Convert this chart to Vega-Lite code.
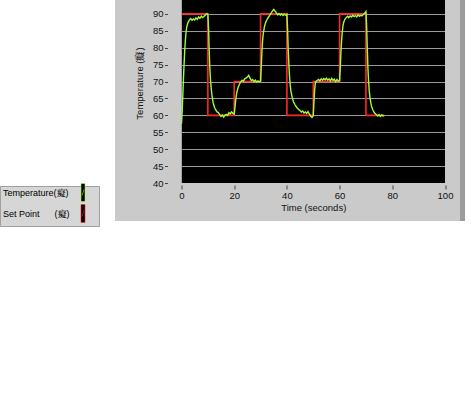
{
  "$schema": "https://vega.github.io/schema/vega-lite/v6.json",
  "width": 263.5,
  "height": 183,
  "autosize": {"type": "none"},
  "padding": {"left": 181.5, "top": 0, "right": 29, "bottom": 223},
  "background": "white",
  "config": {
    "view": {"fill": "black", "stroke": null},
    "font": "Liberation Sans"
  },
  "datasets": {
    "panel": [{}],
    "sp": [
      {"t": 0, "v": 90}, {"t": 10, "v": 60}, {"t": 20, "v": 70}, {"t": 30, "v": 90},
      {"t": 40, "v": 60}, {"t": 50, "v": 70}, {"t": 60, "v": 90}, {"t": 70, "v": 60}, {"t": 77, "v": 60}
    ],
    "temp": [
      {"t": 0, "v": 57.5}, {"t": 0.25, "v": 61}, {"t": 0.5, "v": 66}, {"t": 0.75, "v": 71}, {"t": 1, "v": 75.5},
      {"t": 1.25, "v": 79.5}, {"t": 1.5, "v": 82.5}, {"t": 1.75, "v": 84.8}, {"t": 2, "v": 86.2}, {"t": 2.5, "v": 87.5},
      {"t": 3, "v": 88.2}, {"t": 3.5, "v": 88.6}, {"t": 4, "v": 88.1}, {"t": 4.5, "v": 88.5}, {"t": 5, "v": 88.2},
      {"t": 5.5, "v": 88.8}, {"t": 6, "v": 88.4}, {"t": 6.5, "v": 89.1}, {"t": 7, "v": 88.7}, {"t": 7.5, "v": 89.3},
      {"t": 8, "v": 88.9}, {"t": 8.5, "v": 89.2}, {"t": 9, "v": 89.6}, {"t": 9.5, "v": 90.1}, {"t": 10, "v": 89.9},
      {"t": 10.25, "v": 86}, {"t": 10.5, "v": 79.5}, {"t": 10.75, "v": 74}, {"t": 11, "v": 70.5}, {"t": 11.25, "v": 68.2},
      {"t": 11.5, "v": 66.3}, {"t": 11.75, "v": 64.9}, {"t": 12, "v": 63.8}, {"t": 12.5, "v": 62.4}, {"t": 13, "v": 61.6},
      {"t": 13.5, "v": 61}, {"t": 14, "v": 60.8}, {"t": 14.5, "v": 60.2}, {"t": 15, "v": 59.7}, {"t": 15.5, "v": 60.1},
      {"t": 16, "v": 59.5}, {"t": 16.5, "v": 60}, {"t": 17, "v": 60.3}, {"t": 17.5, "v": 60}, {"t": 18, "v": 60.8},
      {"t": 18.5, "v": 60.4}, {"t": 19, "v": 61}, {"t": 19.5, "v": 60.6}, {"t": 20, "v": 60.4},
      {"t": 20.25, "v": 62}, {"t": 20.5, "v": 64}, {"t": 20.75, "v": 65.6}, {"t": 21, "v": 66.8}, {"t": 21.5, "v": 68.3},
      {"t": 22, "v": 69.2}, {"t": 22.5, "v": 69.9}, {"t": 23, "v": 70.4}, {"t": 23.5, "v": 70.1}, {"t": 24, "v": 70.8},
      {"t": 24.5, "v": 71}, {"t": 25, "v": 71.3}, {"t": 25.5, "v": 71.8}, {"t": 26, "v": 71}, {"t": 26.5, "v": 70.3},
      {"t": 27, "v": 70.6}, {"t": 27.5, "v": 70}, {"t": 28, "v": 70.4}, {"t": 28.5, "v": 69.8}, {"t": 29, "v": 70.2},
      {"t": 29.5, "v": 69.9}, {"t": 30, "v": 70.1},
      {"t": 30.25, "v": 74}, {"t": 30.5, "v": 78.5}, {"t": 30.75, "v": 81.8}, {"t": 31, "v": 84}, {"t": 31.5, "v": 86.3},
      {"t": 32, "v": 87.6}, {"t": 32.5, "v": 88.4}, {"t": 33, "v": 89}, {"t": 33.5, "v": 89.6}, {"t": 34, "v": 90.2},
      {"t": 34.5, "v": 90.8}, {"t": 35, "v": 91.3}, {"t": 35.5, "v": 90.8}, {"t": 36, "v": 90.3}, {"t": 36.5, "v": 89.7},
      {"t": 37, "v": 90.1}, {"t": 37.5, "v": 89.6}, {"t": 38, "v": 90}, {"t": 38.5, "v": 89.5}, {"t": 39, "v": 89.9},
      {"t": 39.5, "v": 89.6}, {"t": 40, "v": 89.9},
      {"t": 40.25, "v": 85.5}, {"t": 40.5, "v": 79.5}, {"t": 40.75, "v": 75}, {"t": 41, "v": 71.5}, {"t": 41.25, "v": 69},
      {"t": 41.5, "v": 67.3}, {"t": 42, "v": 65.3}, {"t": 42.5, "v": 64}, {"t": 43, "v": 63.2}, {"t": 43.5, "v": 62.6},
      {"t": 44, "v": 62.1}, {"t": 44.5, "v": 61.7}, {"t": 45, "v": 61.4}, {"t": 45.5, "v": 61}, {"t": 46, "v": 61.3},
      {"t": 46.5, "v": 60.7}, {"t": 47, "v": 61}, {"t": 47.5, "v": 60.6}, {"t": 48, "v": 61.1}, {"t": 48.5, "v": 60.4},
      {"t": 49, "v": 59.8}, {"t": 49.5, "v": 59.4}, {"t": 50, "v": 59.9},
      {"t": 50.25, "v": 63.5}, {"t": 50.5, "v": 67.3}, {"t": 50.75, "v": 69.3}, {"t": 51, "v": 70}, {"t": 51.5, "v": 70.3},
      {"t": 52, "v": 70.6}, {"t": 52.5, "v": 70.2}, {"t": 53, "v": 70.8}, {"t": 53.5, "v": 70.4}, {"t": 54, "v": 70.9},
      {"t": 54.5, "v": 70.5}, {"t": 55, "v": 71}, {"t": 55.5, "v": 70.4}, {"t": 56, "v": 70.8}, {"t": 56.5, "v": 70.2},
      {"t": 57, "v": 70.9}, {"t": 57.5, "v": 70.3}, {"t": 58, "v": 70.7}, {"t": 58.5, "v": 70}, {"t": 59, "v": 70.6},
      {"t": 59.5, "v": 70.1}, {"t": 60, "v": 70.3},
      {"t": 60.25, "v": 74}, {"t": 60.5, "v": 78.5}, {"t": 60.75, "v": 82}, {"t": 61, "v": 84.5}, {"t": 61.25, "v": 86.3},
      {"t": 61.5, "v": 87.4}, {"t": 62, "v": 88.4}, {"t": 62.5, "v": 88.9}, {"t": 63, "v": 89.3}, {"t": 63.5, "v": 88.9},
      {"t": 64, "v": 89.4}, {"t": 64.5, "v": 89.1}, {"t": 65, "v": 89.6}, {"t": 65.5, "v": 89.2}, {"t": 66, "v": 89.5},
      {"t": 66.5, "v": 89.1}, {"t": 67, "v": 89.7}, {"t": 67.5, "v": 89.3}, {"t": 68, "v": 89.6}, {"t": 68.5, "v": 89.4},
      {"t": 69, "v": 89.8}, {"t": 69.5, "v": 90.2}, {"t": 70, "v": 90.7},
      {"t": 70.25, "v": 86.5}, {"t": 70.5, "v": 80}, {"t": 70.75, "v": 74}, {"t": 71, "v": 70}, {"t": 71.25, "v": 67.3},
      {"t": 71.5, "v": 65.4}, {"t": 72, "v": 63}, {"t": 72.5, "v": 61.8}, {"t": 73, "v": 61}, {"t": 73.5, "v": 60.5},
      {"t": 74, "v": 60.2}, {"t": 74.5, "v": 59.8}, {"t": 75, "v": 60.2}, {"t": 75.5, "v": 59.7}, {"t": 76, "v": 60.1},
      {"t": 76.5, "v": 59.8}, {"t": 77, "v": 60}
    ]
  },
  "layer": [
    {
      "data": {"name": "sp"},
      "mark": {"type": "line", "interpolate": "step-after", "strokeWidth": 1.6},
      "encoding": {
        "x": {"field": "t", "type": "quantitative", "scale": {"domain": [0, 100], "nice": false, "zero": false}},
        "y": {
          "field": "v", "type": "quantitative",
          "scale": {"domain": [40, 94.1], "nice": false, "zero": false},
          "axis": {"orient": "left", "values": [45, 50, 55, 60, 65, 70, 75, 80, 85, 90], "grid": true, "gridColor": "#9a9a9a", "gridWidth": 1, "labels": false, "ticks": false, "domain": false, "title": null, "zindex": 0}
        },
        "color": {
          "datum": "Set Point\u00a0\u00a0\u00a0\u00a0\u00a0\u00a0(癡)",
          "scale": {"domain": ["Temperature(癡)", "Set Point\u00a0\u00a0\u00a0\u00a0\u00a0\u00a0(癡)"], "range": ["#9cff3a", "#ff2626"]},
          "legend": {"title": null, "orient": "none", "legendX": -181.5, "legendY": 186, "padding": 2, "fillColor": "#d6d6d6", "strokeColor": "#a0a0a0", "symbolType": "M74.5,-9H78.5V9H74.5Z M75.6,3L77.4,-3 M88.5,0", "symbolSize": 4, "symbolFillColor": "black", "symbolStrokeWidth": 0.6, "labelFont": "Liberation Sans", "labelFontSize": 9, "labelColor": "black", "labelOffset": -8, "rowPadding": 0}
        }
      }
    },
    {
      "data": {"name": "temp"},
      "mark": {"type": "line", "strokeWidth": 1.4},
      "encoding": {
        "x": {"field": "t", "type": "quantitative", "scale": {"domain": [0, 100], "nice": false, "zero": false},
          "axis": {"orient": "bottom", "values": [0, 10, 20, 30, 40, 50, 60, 70, 80, 90, 100], "offset": 2, "tickSize": 4, "tickColor": "#444444", "domain": false, "grid": false, "labelPadding": 1, "labelFontSize": 9.5, "labelColor": "#111111", "labelFlush": false, "title": "Time (seconds)", "titleFontSize": 9.5, "titleFontWeight": "normal", "titleColor": "#111111", "titlePadding": 3, "zindex": 1}},
        "y": {
          "field": "v", "type": "quantitative",
          "scale": {"domain": [40, 94.1], "nice": false, "zero": false},
          "axis": {"orient": "left", "values": [40, 45, 50, 55, 60, 65, 70, 75, 80, 85, 90], "offset": 14, "tickSize": 3, "tickColor": "#444444", "labelPadding": 1.5, "labelFontSize": 9.5, "labelColor": "#111111", "labelFlush": false, "labelOverlap": false, "domain": false, "grid": false, "title": "Temperature (癡)", "titleFontSize": 9.5, "titleFontWeight": "normal", "titleColor": "#111111", "titleX": -28.5, "titleY": 83, "titleBaseline": "middle", "titleAngle": -90, "zindex": 1}
        },
        "color": {
          "datum": "Temperature(癡)",
          "scale": {"domain": ["Temperature(癡)", "Set Point\u00a0\u00a0\u00a0\u00a0\u00a0\u00a0(癡)"], "range": ["#9cff3a", "#ff2626"]},
          "legend": {"title": null, "orient": "none", "legendX": -181.5, "legendY": 186, "padding": 2, "fillColor": "#d6d6d6", "strokeColor": "#a0a0a0", "symbolType": "M74.5,-9H78.5V9H74.5Z M75.6,3L77.4,-3 M88.5,0", "symbolSize": 4, "symbolFillColor": "black", "symbolStrokeWidth": 0.6, "labelFont": "Liberation Sans", "labelFontSize": 9, "labelColor": "black", "labelOffset": -8, "rowPadding": 0}
        }
      }
    },
    {
      "data": {"name": "panel"},
      "mark": {"type": "rect", "color": "#cacaca", "clip": false},
      "encoding": {
        "x": {"datum": -25.24, "type": "quantitative", "scale": {"domain": [0, 100], "nice": false, "zero": false}},
        "x2": {"datum": 0},
        "y": {"datum": 28.76, "type": "quantitative", "scale": {"domain": [40, 94.1], "nice": false, "zero": false}, "axis": null},
        "y2": {"datum": 94.1}
      }
    },
    {
      "data": {"name": "panel"},
      "mark": {"type": "rect", "color": "#cacaca", "clip": false},
      "encoding": {
        "x": {"datum": -25.24, "type": "quantitative", "scale": {"domain": [0, 100], "nice": false, "zero": false}},
        "x2": {"datum": 107.6},
        "y": {"datum": 28.76, "type": "quantitative", "scale": {"domain": [40, 94.1], "nice": false, "zero": false}, "axis": null},
        "y2": {"datum": 40}
      }
    },
    {
      "data": {"name": "panel"},
      "mark": {"type": "rect", "color": "#cacaca", "clip": false},
      "encoding": {
        "x": {"datum": 100, "type": "quantitative", "scale": {"domain": [0, 100], "nice": false, "zero": false}},
        "x2": {"datum": 107.6},
        "y": {"datum": 40, "type": "quantitative", "scale": {"domain": [40, 94.1], "nice": false, "zero": false}, "axis": null},
        "y2": {"datum": 94.1}
      }
    },
    {
      "data": {"name": "panel"},
      "mark": {"type": "rect", "color": "#9c9c9c", "clip": false},
      "encoding": {
        "x": {"datum": 105.7, "type": "quantitative", "scale": {"domain": [0, 100], "nice": false, "zero": false}},
        "x2": {"datum": 107.6},
        "y": {"datum": 28.76, "type": "quantitative", "scale": {"domain": [40, 94.1], "nice": false, "zero": false}, "axis": null},
        "y2": {"datum": 94.1}
      }
    }
  ],
  "resolve": {"axis": {"y": "independent"}}
}
